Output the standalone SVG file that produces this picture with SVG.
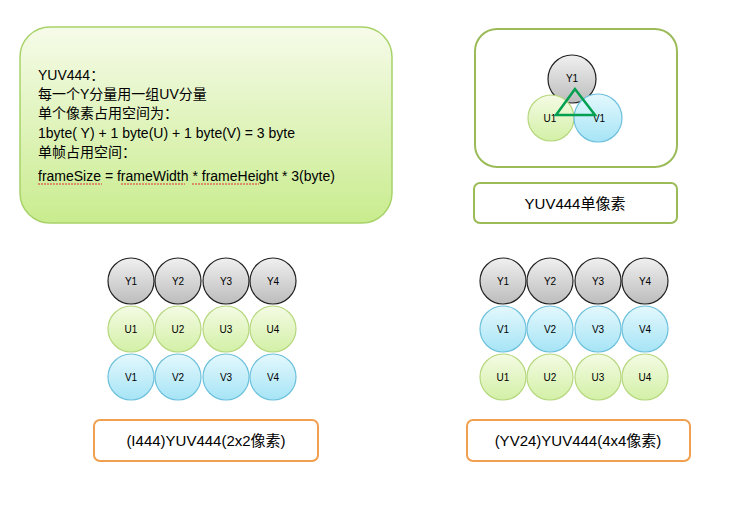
<svg xmlns="http://www.w3.org/2000/svg" width="743" height="505" viewBox="0 0 743 505">
<defs>
<linearGradient id="gb" x1="0" y1="0" x2="0" y2="1"><stop offset="0" stop-color="#f6fbe9"/><stop offset="1" stop-color="#c9ec8e"/></linearGradient>
<linearGradient id="gy" x1="0" y1="0" x2="0" y2="1"><stop offset="0" stop-color="#f0f0f0"/><stop offset="1" stop-color="#bcbcbc"/></linearGradient>
<linearGradient id="gu" x1="0" y1="0" x2="0" y2="1"><stop offset="0" stop-color="#f4fbe4"/><stop offset="1" stop-color="#d3f0a6"/></linearGradient>
<linearGradient id="gv" x1="0" y1="0" x2="0" y2="1"><stop offset="0" stop-color="#e4f8fd"/><stop offset="1" stop-color="#a6e4f6"/></linearGradient>
</defs>
<style>
text{font-family:"Liberation Sans","Noto Sans CJK SC",sans-serif;fill:#000}
.c{font-size:10px;text-anchor:middle}
.y{fill:url(#gy);stroke:#222;stroke-width:1.2}
.u{fill:url(#gu);stroke:#b5d77d;stroke-width:1.2}
.v{fill:url(#gv);stroke:#6cc0dc;stroke-width:1.2}
.lab{fill:#fff;stroke:#f0a050;stroke-width:2}
.t{font-size:14px}
</style>
<rect width="743" height="505" fill="#fff"/>
<g id="info">
<rect x="20" y="27" width="372" height="196" rx="30" fill="url(#gb)" stroke="#a8d26a" stroke-width="1.5"/>
<text class="t" x="38" y="80">YUV444：</text>
<text class="t" x="38" y="99">每一个Y分量用一组UV分量</text>
<text class="t" x="38" y="118">单个像素占用空间为：</text>
<text class="t" x="38" y="138">1byte( Y) + 1 byte(U) + 1 byte(V) = 3 byte</text>
<text class="t" x="38" y="157">单帧占用空间：</text>
<text class="t" x="38" y="181">frameSize = frameWidth * frameHeight * 3(byte)</text>
<path d="M38 184h64M121 184h64M192 184h67" stroke="#e03030" stroke-width="1" stroke-dasharray="2,1" fill="none"/>
</g>
<g id="single">
<rect x="475" y="29" width="202" height="138" rx="22" fill="#fff" stroke="#9bbb59" stroke-width="2"/>
<circle class="y" cx="572" cy="79" r="24"/>
<circle class="u" cx="551" cy="118" r="23"/>
<circle class="v" cx="598" cy="118" r="24"/>
<text class="c" x="572" y="82">Y1</text>
<text class="c" x="550" y="122">U1</text>
<text class="c" x="599" y="122">V1</text>
<path d="M575 89L556 115H595Z" fill="none" stroke="#00a050" stroke-width="2.5"/>
</g>
<g id="single-label">
<rect x="474" y="183" width="203" height="40" rx="6" fill="#fff" stroke="#9bbb59" stroke-width="2"/>
<text x="575" y="209" font-size="15" text-anchor="middle">YUV444单像素</text>
</g>
<g id="grid-i444">
<circle class="y" cx="131" cy="281" r="23"/><circle class="y" cx="178" cy="281" r="23"/><circle class="y" cx="226" cy="281" r="23"/><circle class="y" cx="273" cy="281" r="23"/>
<circle class="u" cx="131" cy="329" r="23"/><circle class="u" cx="178" cy="329" r="23"/><circle class="u" cx="226" cy="329" r="23"/><circle class="u" cx="273" cy="329" r="23"/>
<circle class="v" cx="131" cy="377" r="23"/><circle class="v" cx="178" cy="377" r="23"/><circle class="v" cx="226" cy="377" r="23"/><circle class="v" cx="273" cy="377" r="23"/>
<text class="c" x="131" y="285">Y1</text><text class="c" x="178" y="285">Y2</text><text class="c" x="226" y="285">Y3</text><text class="c" x="273" y="285">Y4</text>
<text class="c" x="131" y="333">U1</text><text class="c" x="178" y="333">U2</text><text class="c" x="226" y="333">U3</text><text class="c" x="273" y="333">U4</text>
<text class="c" x="131" y="381">V1</text><text class="c" x="178" y="381">V2</text><text class="c" x="226" y="381">V3</text><text class="c" x="273" y="381">V4</text>
</g>
<g id="grid-yv24">
<circle class="y" cx="503" cy="281" r="23"/><circle class="y" cx="550" cy="281" r="23"/><circle class="y" cx="598" cy="281" r="23"/><circle class="y" cx="645" cy="281" r="23"/>
<circle class="v" cx="503" cy="329" r="23"/><circle class="v" cx="550" cy="329" r="23"/><circle class="v" cx="598" cy="329" r="23"/><circle class="v" cx="645" cy="329" r="23"/>
<circle class="u" cx="503" cy="377" r="23"/><circle class="u" cx="550" cy="377" r="23"/><circle class="u" cx="598" cy="377" r="23"/><circle class="u" cx="645" cy="377" r="23"/>
<text class="c" x="503" y="285">Y1</text><text class="c" x="550" y="285">Y2</text><text class="c" x="598" y="285">Y3</text><text class="c" x="645" y="285">Y4</text>
<text class="c" x="503" y="333">V1</text><text class="c" x="550" y="333">V2</text><text class="c" x="598" y="333">V3</text><text class="c" x="645" y="333">V4</text>
<text class="c" x="503" y="381">U1</text><text class="c" x="550" y="381">U2</text><text class="c" x="598" y="381">U3</text><text class="c" x="645" y="381">U4</text>
</g>
<g id="label-i444">
<rect class="lab" x="94" y="420" width="224" height="41" rx="6"/>
<text x="206" y="446" font-size="15" text-anchor="middle">(I444)YUV444(2x2像素)</text>
</g>
<g id="label-yv24">
<rect class="lab" x="467" y="420" width="223" height="41" rx="6"/>
<text x="578" y="446" font-size="15" text-anchor="middle">(YV24)YUV444(4x4像素)</text>
</g>
<g id="connectors"/>
</svg>
